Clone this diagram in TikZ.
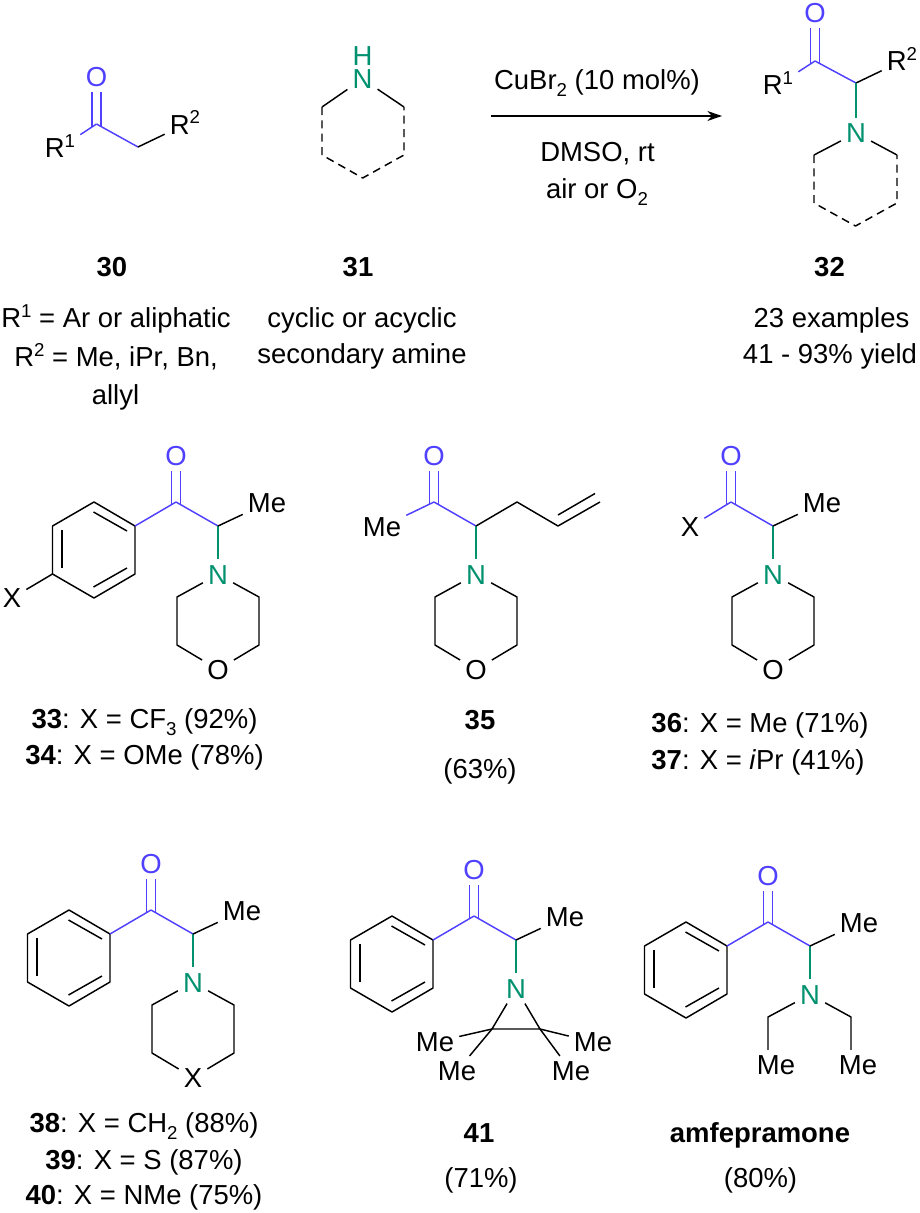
\documentclass[tikz,border=0pt]{standalone}
\usepackage{fontspec}
\setmainfont{Liberation Sans}
\usetikzlibrary{arrows.meta}
\definecolor{kblue}{HTML}{5040FF}
\definecolor{kgreen}{HTML}{00916F}
\newcommand{\txt}{\fontsize{20.6}{25}\selectfont}
\newcommand{\supr}[1]{\raisebox{7.8pt}{\fontsize{14}{16}\selectfont #1}}
\newcommand{\subr}[1]{\raisebox{-4.7pt}{\fontsize{14}{16}\selectfont #1}}
\tikzset{
  atom/.style={inner sep=3.7pt,text height=14.8pt,text depth=0pt,font=\txt},
  lab/.style={inner sep=0pt,text height=14.8pt,text depth=0pt,font=\txt,align=center},
  bond/.style={line width=1.1pt,line join=round,draw=black},
  bb/.style={bond,draw=kblue},
  gb/.style={bond,draw=kgreen},
  db/.style={bond,dash pattern=on 6pt off 4pt},
  oxy/.style={atom,text=kblue},
  nit/.style={atom,text=kgreen},
}
% carbonyl + alpha carbon + N; base geometry of compound 33
\newcommand{\core}[3]{%
  \begin{scope}[shift={(#2,#3)},name prefix=#1-]
    \node[oxy] (O) at (176,456) {O};
    \coordinate (C) at (176,502);
    \coordinate (A) at (218,526);
    \node[nit] (N) at (218,574.5) {N};
    \draw[bb] ([xshift=-3.4pt]O.south) -- ([xshift=-3.4pt,yshift=-1.9pt]C);
    \draw[bb] ([xshift=3.4pt]O.south) -- ([xshift=3.4pt,yshift=-1.9pt]C);
    \draw[bb] (C) -- (A);
    \draw[gb] (A) -- (N);
  \end{scope}}
\newcommand{\methyl}[3]{%
  \begin{scope}[shift={(#2,#3)},name prefix=#1-]
    \node[atom] (Me) at (267,503) {Me};
    \draw[bond] (A) -- (Me);
  \end{scope}}
% six-membered N ring; #4 bottom atom
\newcommand{\azine}[4]{%
  \begin{scope}[shift={(#2,#3)},name prefix=#1-]
    \coordinate (r1) at (177,597);
    \coordinate (r2) at (177,645);
    \node[atom] (Y) at (218,669.5) {#4};
    \coordinate (r3) at (259,645);
    \coordinate (r4) at (259,597);
    \draw[bond] (N) -- (r1) -- (r2) -- (Y);
    \draw[bond] (Y) -- (r3) -- (r4) -- (N);
  \end{scope}}
\newcommand{\phenyl}[3]{%
  \begin{scope}[shift={(#2,#3)},name prefix=#1-]
    \coordinate (p1) at (135,526);
    \coordinate (p2) at (94,502);
    \coordinate (p3) at (52.5,526);
    \coordinate (p4) at (52.5,574);
    \coordinate (p5) at (94,598);
    \coordinate (p6) at (135,574);
    \coordinate (i1) at (127,531);
    \coordinate (i2) at (93.5,512);
    \coordinate (i3) at (62,530);
    \coordinate (i4) at (62,568);
    \coordinate (i5) at (93.5,587);
    \coordinate (i6) at (127,568);
    \draw[bond] (p1) -- (p2) -- (p3) -- (p4) -- (p5) -- (p6) -- cycle;
    \draw[bond] (i1) -- (i2);
    \draw[bond] (i3) -- (i4);
    \draw[bond] (i5) -- (i6);
    \draw[bb] (p1) -- (C);
  \end{scope}}
\newcommand{\dashring}[7]{%
  % #1 prefix, #2..#3 left/right x, #4 mid x, #5 upper y, #6 lower y, #7 bottom y
  \begin{scope}[name prefix=#1-]
    \coordinate (d1) at (#2,#5);
    \coordinate (d2) at (#2,#6);
    \coordinate (d3) at (#4,#7);
    \coordinate (d4) at (#3,#6);
    \coordinate (d5) at (#3,#5);
    \draw[bond] (N) -- (d1);
    \draw[db] (d1) -- (d2) -- (d3) -- (d4) -- (d5);
    \draw[bond] (d5) -- (N);
  \end{scope}}
\begin{document}
\begin{tikzpicture}[x=0.75pt,y=-0.75pt]
\useasboundingbox (0,0) rectangle (920,1213);

% 30
\node[oxy] (a-O) at (96.5,77) {O};
\coordinate (a-C) at (96.5,124);
\coordinate (a-D) at (138,147);
\node[atom] (a-R1) at (60,148) {R\supr{1}};
\node[atom] (a-R2) at (185,124.5) {R\supr{2}};
\draw[bb] ([xshift=-3.4pt]a-O.south) -- ([xshift=-3.4pt,yshift=-1.9pt]a-C);
\draw[bb] ([xshift=3.4pt]a-O.south) -- ([xshift=3.4pt,yshift=-1.9pt]a-C);
\draw[bb] (a-R1) -- (a-C);
\draw[bb] (a-C) -- (a-D);
\draw[bond] (a-D) -- (a-R2);

% 31
\node[nit] (b-N) at (362.5,79) {N};
\node[lab,text=kgreen] (b-H) at (362.5,56) {H};
\dashring{b}{322}{404}{362.7}{107}{155}{178}

% arrow
\coordinate (arrS) at (491,116);
\coordinate (arrE) at (722,116);
\draw[bond,-{Stealth[length=11pt,width=7.5pt]}] (arrS) -- (arrE);
\node[lab] (r1) at (597,80) {CuBr\subr{2} (10 mol\%)};
\node[lab] (r2) at (597.5,152) {DMSO, rt};
\node[lab] (r3) at (597,189) {air or O\subr{2}};

% 32
\node[oxy] (c-O) at (815,13) {O};
\coordinate (c-C) at (815,61);
\coordinate (c-A) at (856,83);
\node[atom] (c-R1) at (778,85) {R\supr{1}};
\node[atom] (c-R2) at (902,61) {R\supr{2}};
\node[nit] (c-N) at (856,133) {N};
\draw[bb] ([xshift=-3.4pt]c-O.south) -- ([xshift=-3.4pt,yshift=-1.9pt]c-C);
\draw[bb] ([xshift=3.4pt]c-O.south) -- ([xshift=3.4pt,yshift=-1.9pt]c-C);
\draw[bb] (c-R1) -- (c-C);
\draw[bb] (c-C) -- (c-A);
\draw[bond] (c-A) -- (c-R2);
\draw[gb] (c-A) -- (c-N);
\dashring{c}{814}{897}{855.5}{155}{203}{226}

% labels top
\node[lab] (l30) at (112,267) {\textbf{30}};
\node[lab] (l31) at (358,267) {\textbf{31}};
\node[lab] (l32) at (829.5,267) {\textbf{32}};
\node[lab] (l30a) at (116,318) {R\supr{1} = Ar or aliphatic};
\node[lab] (l30b) at (116,357) {R\supr{2} = Me, iPr, Bn,};
\node[lab] (l30c) at (115.5,395) {allyl};
\node[lab] (l31a) at (362,318) {cyclic or acyclic};
\node[lab] (l31b) at (362,354) {secondary amine};
\node[lab] (l32a) at (831.5,318) {23 examples};
\node[lab] (l32b) at (830,354) {41 - 93\% yield};

% 33/34
\core{e}{0}{0}
\methyl{e}{0}{0}
\azine{e}{0}{0}{O}
\phenyl{e}{0}{0}
\node[atom] (e-X) at (12,598) {X};
\draw[bond] (e-X) -- (e-p4);

% 35
\core{f}{258}{0}
\azine{f}{258}{0}{O}
\node[atom] (f-Me) at (382,527) {Me};
\coordinate (f-a) at (517,502);
\coordinate (f-b) at (558,526);
\coordinate (f-c) at (600,502);
\coordinate (f-d) at (558,515);
\coordinate (f-e) at (595,493.5);
\draw[bb] (f-Me) -- (f-C);
\draw[bond] (f-A) -- (f-a) -- (f-b) -- (f-c);
\draw[bond] (f-d) -- (f-e);

% 36/37
\core{g}{555}{0}
\methyl{g}{555}{0}
\azine{g}{555}{0}{O}
\node[atom] (g-X) at (690,527) {X};
\draw[bb] (g-X) -- (g-C);

% labels middle
\node[lab] (l33) at (144.5,719) {\textbf{33}: X = CF\subr{3} (92\%)};
\node[lab] (l34) at (144.5,755) {\textbf{34}: X = OMe (78\%)};
\node[lab] (l35) at (480,720) {\textbf{35}};
\node[lab] (l35y) at (480,769) {(63\%)};
\node[lab] (l36) at (760,723) {\textbf{36}: X = Me (71\%)};
\node[lab] (l37) at (758,760) {\textbf{37}: X = \textit{i}Pr (41\%)};

% 38/39/40
\core{h}{-25}{408}
\methyl{h}{-25}{408}
\azine{h}{-25}{408}{X}
\phenyl{h}{-25}{408}

% 41
\core{k}{298}{414}
\methyl{k}{298}{414}
\phenyl{k}{298}{414}
\coordinate (k-l) at (492,1029);
\coordinate (k-r) at (540,1029);
\node[atom] (k-m1) at (435,1042) {Me};
\node[atom] (k-m2) at (457,1071) {Me};
\node[atom] (k-m3) at (593,1042) {Me};
\node[atom] (k-m4) at (571,1071) {Me};
\draw[bond] (k-N) -- (k-l) -- (k-r) -- (k-N);
\draw[bond] (k-l) -- (k-m1);
\draw[bond] (k-l) -- (k-m2);
\draw[bond] (k-r) -- (k-m3);
\draw[bond] (k-r) -- (k-m4);

% amfepramone
\core{m}{592}{420}
\methyl{m}{592}{420}
\phenyl{m}{592}{420}
\coordinate (m-e1) at (768,1017);
\coordinate (m-e2) at (851,1017);
\node[atom] (m-m1) at (776,1065) {Me};
\node[atom] (m-m2) at (858,1065) {Me};
\draw[bond] (m-N) -- (m-e1) -- (m-e1|-m-m1.north);
\draw[bond] (m-N) -- (m-e2) -- (m-e2|-m-m2.north);

% labels bottom
\node[lab] (l38) at (144,1123) {\textbf{38}: X = CH\subr{2} (88\%)};
\node[lab] (l39) at (144,1160) {\textbf{39}: X = S (87\%)};
\node[lab] (l40) at (144,1195) {\textbf{40}: X = NMe (75\%)};
\node[lab] (l41) at (479,1133) {\textbf{41}};
\node[lab] (l41y) at (481,1178) {(71\%)};
\node[lab] (l42) at (760,1133) {\textbf{amfepramone}};
\node[lab] (l42y) at (760.5,1178) {(80\%)};
\end{tikzpicture}
\end{document}
